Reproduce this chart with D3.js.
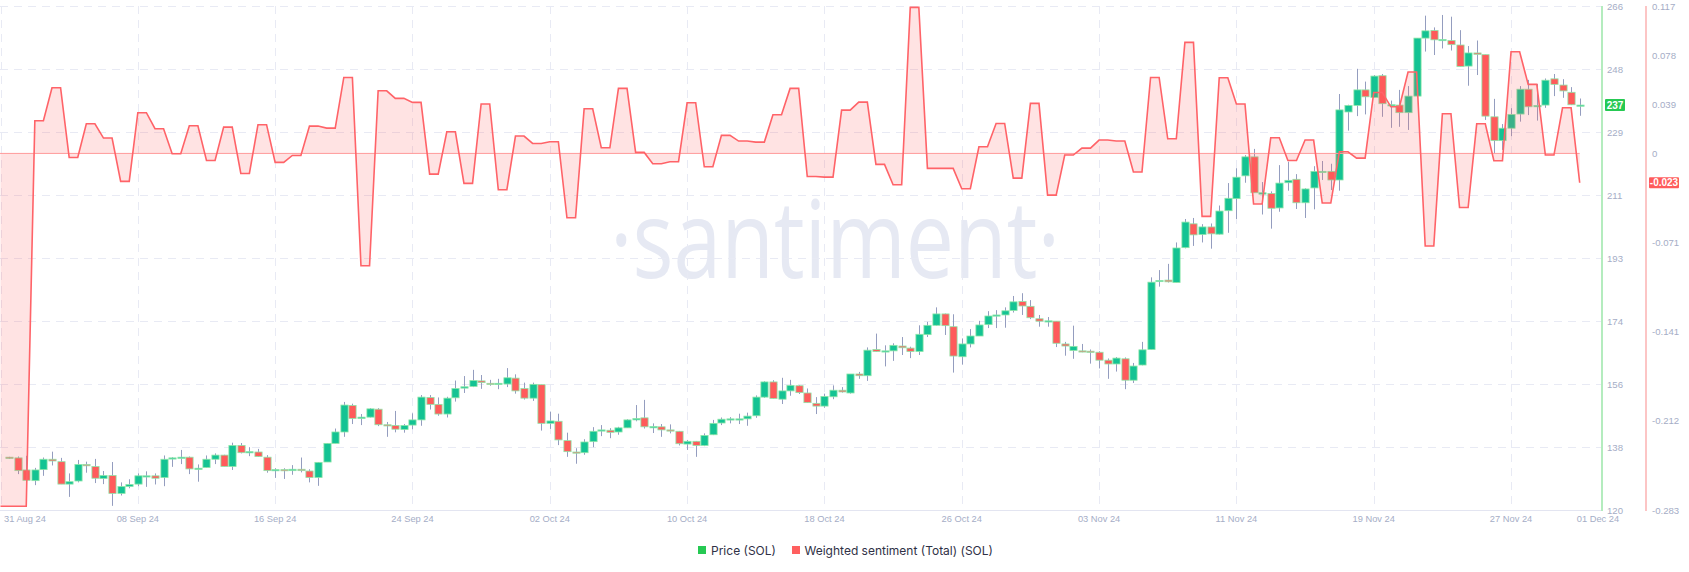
<!DOCTYPE html>
<html>
<head>
<meta charset="utf-8">
<script src="https://cdn.jsdelivr.net/npm/d3@7/dist/d3.min.js"></script>
<style>
  html, body { margin: 0; padding: 0; background: #fff; }
  svg { display: block; }
  text { font-family: "Liberation Sans", Arial, sans-serif; }
</style>
</head>
<body>
<script>
// 12h candles, first one is 31 Aug 12:00
const opens = [135.3,135.1,131.6,128.5,131.7,134.7,134.0,127.5,128.4,133.2,132.6,129.1,130.0,124.8,126.8,127.5,129.8,129.9,129.4,134.8,135.1,135.3,131.8,132.3,134.7,135.9,132.6,138.7,136.6,136.8,135.3,131.4,131.7,131.4,131.8,131.3,129.4,133.9,139.3,142.6,150.3,146.5,146.9,149.2,144.7,144.5,143.3,144.6,146.1,152.6,150.6,147.8,152.5,155.3,155.8,157.4,156.7,156.6,156.5,158.2,155.2,152.4,156.3,
  145.1,145.7,140.1,136.8,136.6,139.8,142.9,143.1,142.6,143.8,146.1,146.7,143.8,144.1,143.2,142.8,139.1,139.9,138.7,141.8,145.2,146.2,146.2,146.4,147.3,152.7,157.1,152.1,154.5,156.0,153.9,150.9,150.1,152.8,154.7,153.9,159.4,158.9,166.5,165.9,166.1,167.5,166.9,165.9,170.8,173.5,176.8,173.1,164.4,168.1,170.4,173.7,176.3,176.5,177.8,180.4,179.0,175.4,174.6,174.7,168.1,166.2,166.1,166.0,165.7,
  163.4,162.3,163.8,157.6,162.0,166.5,186.2,186.6,185.9,196.0,202.9,199.8,202.0,199.9,206.7,210.2,216.8,222.3,211.5,211.7,207.5,214.8,215.8,209.0,213.3,218.0,218.1,215.6,235.3,237.2,241.7,239.5,245.8,237.2,237.3,235.1,239.9,256.7,258.9,256.2,256.0,254.7,248.6,252.4,251.9,233.9,227.0,230.6,234.7,241.9,236.8,237.3,244.9,243.1,241.0,237.2];
const highs = [135.4,135.5,135.7,132.2,135.2,136.9,135.1,130.6,134.5,134.0,134.8,131.3,133.9,128.0,128.9,130.6,131.2,130.6,135.8,135.3,137.4,135.5,133.2,135.8,136.4,136.0,139.5,139.4,138.2,137.7,135.9,132.1,132.1,133.0,135.2,131.8,133.9,139.3,143.6,151.3,150.8,147.8,149.5,149.5,145.5,148.7,144.9,148.0,153.3,153.3,152.6,152.8,157.5,158.8,160.6,159.1,157.7,158.0,161.1,159.3,156.9,156.9,156.3,
  148.5,147.9,142.4,137.9,140.5,144.0,144.6,143.7,144.1,146.3,150.4,151.9,145.1,144.9,144.8,142.9,140.3,140.0,142.2,146.1,146.8,146.9,147.9,148.2,153.2,157.3,157.6,158.3,157.7,156.2,155.2,152.7,153.7,156.1,155.6,159.4,160.0,167.1,171.1,167.7,168.3,170.1,167.3,173.5,174.5,178.7,176.9,176.7,169.7,172.4,174.8,177.6,177.9,178.7,182.0,182.8,180.8,176.5,175.9,174.7,168.7,173.4,168.1,166.5,166.0,
  163.9,164.3,164.2,162.6,168.7,187.4,189.5,191.3,197.5,204.3,204.6,202.8,203.0,208.2,214.7,219.0,222.8,224.6,215.0,212.3,219.9,220.9,217.3,213.2,219.6,221.1,220.3,240.5,237.4,247.8,244.1,246.0,246.3,238.6,241.7,242.8,256.7,263.2,259.8,263.4,262.9,259.0,254.4,256.0,251.9,239.1,231.8,236.4,242.8,244.6,243.4,245.0,246.3,244.8,242.5,239.2];
const lows = [134.8,130.4,128.6,127.2,129.9,132.9,127.5,123.8,128.0,130.8,127.8,127.5,121.2,124.2,126.3,126.9,126.7,127.4,126.9,132.5,133.3,130.4,128.2,132.2,133.3,132.6,131.6,136.4,135.6,135.4,130.8,129.3,129.0,130.2,130.9,128.0,127.0,133.9,139.3,141.2,144.9,144.6,146.8,144.3,141.2,142.5,142.4,143.4,144.4,149.1,147.3,146.8,151.4,153.9,155.6,155.1,156.0,155.0,155.6,153.7,152.0,151.6,143.0,
  143.5,138.8,135.4,133.4,136.0,138.2,141.4,140.8,141.8,143.8,145.7,143.6,142.3,141.2,142.2,138.7,137.4,135.4,138.5,141.7,144.6,145.1,144.9,144.4,146.7,152.5,152.2,150.7,153.1,153.6,151.1,147.8,149.6,152.1,154.0,153.7,158.0,157.4,165.8,161.6,163.2,164.9,164.0,164.9,170.1,173.4,170.7,159.8,162.1,167.1,170.4,172.7,172.7,172.8,177.2,176.5,175.3,173.1,173.1,167.2,164.7,163.8,165.7,162.4,161.0,
  158.0,160.1,155.0,156.8,161.9,166.5,184.7,185.9,185.9,195.8,196.5,197.5,195.7,199.8,200.3,204.3,214.8,211.9,205.6,201.5,206.4,212.5,207.2,204.6,207.1,215.6,212.7,212.5,229.9,234.1,234.6,239.5,233.9,230.7,231.0,230.1,239.9,252.8,251.8,253.7,253.1,248.5,242.9,246.0,233.0,223.3,224.3,228.3,232.5,234.4,232.8,236.5,239.9,239.4,237.3,234.2];
const closes = [135.2,131.4,128.6,131.6,134.7,134.2,127.5,128.2,133.2,132.8,129.2,130.0,124.8,126.8,127.4,129.9,129.9,129.2,134.7,135.1,135.3,131.9,132.1,134.7,135.9,132.6,138.7,136.6,136.9,135.5,131.4,131.7,131.4,131.8,131.4,129.4,133.8,139.3,142.6,150.4,146.5,146.9,149.3,144.7,144.5,143.4,144.5,146.1,152.7,150.6,147.8,152.4,155.2,155.7,157.5,156.9,156.6,156.7,158.3,154.5,152.4,156.4,145.1,
  145.8,140.3,136.9,136.6,139.7,142.8,143.2,142.5,143.8,146.1,146.5,144.1,144.2,143.2,142.9,139.2,139.9,138.7,141.6,145.1,146.3,146.4,146.4,147.2,152.7,157.1,152.3,154.5,156.1,154.0,151.1,150.1,152.9,154.7,154.2,159.4,158.9,166.3,165.9,166.1,167.7,167.0,165.9,170.9,173.5,176.8,173.4,164.6,168.1,170.4,173.6,176.2,176.5,177.7,180.3,179.1,175.7,174.7,174.8,168.3,167.5,167.4,165.9,165.8,163.4,
  162.3,164.0,157.6,161.7,166.4,186.0,186.5,186.1,195.9,203.4,199.7,202.0,200.0,206.6,210.3,216.4,222.3,211.9,211.9,207.4,214.7,215.5,209.0,213.0,218.1,218.1,215.6,235.9,237.2,241.7,239.7,245.7,237.7,237.4,235.1,239.9,256.7,258.8,256.2,256.3,254.8,248.5,252.4,252.0,234.1,227.0,230.6,234.6,241.9,236.8,237.2,244.5,243.3,241.4,237.4,237.3];

// daily weighted sentiment, 31 Aug .. 01 Dec
const sentimentDaily = [-0.28,-0.28,0.0259,0.0521,-0.0032,0.0235,0.0122,-0.0222,0.0323,0.0196,-0.0003,0.022,-0.0056,0.0209,-0.0159,0.0228,-0.0071,-0.0016,0.0217,0.0201,0.0603,-0.0892,0.0497,0.0437,0.0405,-0.0164,0.0172,-0.0238,0.0392,-0.0288,0.0138,0.0079,
  0.0093,-0.0511,0.0354,0.0045,0.0516,0.0008,-0.0082,-0.0066,0.0402,-0.0106,0.0143,0.0098,0.009,0.0307,0.0516,-0.0183,-0.0188,0.0344,0.0407,-0.0087,-0.0249,0.1159,-0.0119,-0.0119,-0.028,0.0053,0.0238,-0.0196,0.0397,-0.0331,-0.0013,0.0042,
  0.0106,0.0098,-0.0148,0.0603,0.0116,0.0881,-0.05,0.0601,0.0392,-0.0402,0.0124,-0.0056,0.0106,-0.0394,0.0013,-0.0037,0.0484,0.037,0.0646,-0.0735,0.0315,-0.0429,0.0235,-0.0058,0.0807,0.0548,-0.0013,0.0362,-0.0233];

const priceTicks = [120,138,156,174,193,211,229,248,266];
const sentimentTicks = [0.117,0.078,0.039,0,-0.071,-0.141,-0.212,-0.283];
const dateTicks = ["2024-08-31","2024-09-08","2024-09-16","2024-09-24","2024-10-02","2024-10-10","2024-10-18","2024-10-26","2024-11-03","2024-11-11","2024-11-19","2024-11-27"];
const lastDate = "2024-12-01";

const parseDay = d3.utcParse("%Y-%m-%d");
const fmtDay = d3.utcFormat("%d %b %y");
const HALF = 12*3600*1000;

const width = 1689, height = 572,
      plotTop = 6, plotBottom = 510, axisRight = 1602, axisRight2 = 1646;

const start = parseDay(dateTicks[0]), end = parseDay(lastDate);

const x = d3.scaleUtc().domain([start,end]).range([0.5,1579.7]);
const yPrice = d3.scaleLinear().domain([120,266]).range([plotBottom,plotTop]);
const ySent = d3.scaleLinear().domain([-0.283,0.117]).range([plotBottom,plotTop]);
// the rounded price labels sit on evenly spaced lines
const tickPos = d3.scaleLinear().domain([0,priceTicks.length-1]).range([plotBottom,plotTop]);

const candles = opens.map((o,i)=>({
  t: new Date(+start+(i+1)*HALF), o, h: highs[i], l: lows[i], c: closes[i]
}));

// the daily value holds for both 12h slots of the day
const sentiment = sentimentDaily.flatMap((v,k)=>[
  {t:new Date(+start+2*k*HALF),v},
  {t:new Date(+start+(2*k+1)*HALF),v}
]).slice(0,185);

const svg = d3.select("body").append("svg")
  .attr("width",width).attr("height",height)
  .attr("viewBox",[0,0,width,height]);

const gridColor = "#e8eaf4", tickColor = "#a5adc6";

// watermark
svg.append("text")
  .attr("x",610).attr("y",278)
  .attr("textLength",450).attr("lengthAdjust","spacingAndGlyphs")
  .style("font-family","'Open Sans'").style("font-weight",400).style("font-size","108px")
  .attr("fill","#e6e9f3")
  .text("·santiment·");

// grid
svg.append("g").selectAll("line")
  .data(priceTicks.slice(1))
  .join("line")
  .attr("x1",0).attr("x2",axisRight)
  .attr("y1",(d,i)=>Math.round(tickPos(i+1))+0.5)
  .attr("y2",(d,i)=>Math.round(tickPos(i+1))+0.5)
  .attr("stroke",gridColor).attr("stroke-dasharray","8,6");

svg.append("g").selectAll("line")
  .data(dateTicks)
  .join("line")
  .attr("x1",d=>Math.round(x(parseDay(d)))+0.5).attr("x2",d=>Math.round(x(parseDay(d)))+0.5)
  .attr("y1",plotTop).attr("y2",plotBottom)
  .attr("stroke",gridColor).attr("stroke-dasharray","8,6");

// bottom axis line
svg.append("line")
  .attr("x1",0).attr("x2",axisRight).attr("y1",plotBottom+0.5).attr("y2",plotBottom+0.5)
  .attr("stroke","#e3e5f1");

// candles
const candle = svg.append("g").selectAll("g")
  .data(candles)
  .join("g");

candle.append("line")
  .attr("x1",d=>Math.round(x(d.t))+0.5).attr("x2",d=>Math.round(x(d.t))+0.5)
  .attr("y1",d=>yPrice(d.h)).attr("y2",d=>yPrice(d.l))
  .attr("stroke","#949dbf").attr("stroke-width",1);

candle.append("rect")
  .attr("x",d=>Math.round(x(d.t))-3.1)
  .attr("width",7.2)
  .attr("y",d=>yPrice(Math.max(d.o,d.c)))
  .attr("height",d=>Math.max(1.2,Math.abs(yPrice(d.o)-yPrice(d.c))))
  .attr("fill",d=>d.c>=d.o?"#14c393":"#ff5b5b")
  .attr("stroke","#8ee6a8").attr("stroke-width",0.8);

// sentiment area + line, drawn over the candles
const area = d3.area().x(d=>x(d.t)).y0(ySent(0)).y1(d=>ySent(d.v));
const line = d3.line().x(d=>x(d.t)).y(d=>ySent(d.v));

svg.append("path").datum(sentiment)
  .attr("d",area).attr("fill","#ff5b5b").attr("fill-opacity",0.17);

svg.append("line")
  .attr("x1",0).attr("x2",x(end))
  .attr("y1",ySent(0)).attr("y2",ySent(0))
  .attr("stroke","#ff9a9a").attr("stroke-width",1);

svg.append("path").datum(sentiment)
  .attr("d",line).attr("fill","none").attr("stroke","#ff6368").attr("stroke-width",1.6);

// right axes
svg.append("line")
  .attr("x1",axisRight).attr("x2",axisRight).attr("y1",plotTop).attr("y2",plotBottom+1)
  .attr("stroke","#b4ecbe").attr("stroke-width",2);
svg.append("line")
  .attr("x1",axisRight2).attr("x2",axisRight2).attr("y1",plotTop).attr("y2",plotBottom+1)
  .attr("stroke","#fcc5c5").attr("stroke-width",2);

svg.append("g").selectAll("text")
  .data(priceTicks)
  .join("text")
  .attr("x",1607).attr("y",(d,i)=>tickPos(i)+3.5)
  .attr("fill",tickColor).style("font-size","9.6px")
  .text(d=>d);

svg.append("g").selectAll("text")
  .data(sentimentTicks)
  .join("text")
  .attr("x",1652).attr("y",d=>ySent(d)+3.5)
  .attr("fill",tickColor).style("font-size","9.6px")
  .text(d=>d);

// x labels
svg.append("g").selectAll("text")
  .data(dateTicks.slice(1).concat([lastDate]))
  .join("text")
  .attr("x",d=>d===lastDate?1598:x(parseDay(d)))
  .attr("y",522).attr("text-anchor","middle")
  .attr("fill",tickColor).style("font-size","9.3px")
  .text(d=>fmtDay(parseDay(d)));

svg.append("text")
  .attr("x",4).attr("y",522)
  .attr("fill",tickColor).style("font-size","9.3px")
  .text(fmtDay(start));

// current value badges
const lastCandle = candles[candles.length-1];
svg.append("rect")
  .attr("x",1605).attr("y",yPrice(lastCandle.c)-6).attr("width",20).attr("height",12)
  .attr("fill","#26c953").attr("rx",1);
svg.append("text")
  .attr("x",1615).attr("y",yPrice(lastCandle.c)+3.5).attr("text-anchor","middle")
  .attr("fill","#fff").style("font-size","10px").style("font-weight","bold")
  .text(Math.round(lastCandle.c));

const lastSent = sentimentDaily[sentimentDaily.length-1];
svg.append("rect")
  .attr("x",1649).attr("y",ySent(lastSent)-5.5).attr("width",30).attr("height",11)
  .attr("fill","#ff5b5b").attr("rx",1);
svg.append("text")
  .attr("x",1664).attr("y",ySent(lastSent)+3.5).attr("text-anchor","middle")
  .attr("fill","#fff").style("font-size","10px").style("font-weight","bold")
  .text(lastSent.toFixed(3));

// legend
const legend = [
  {name:"Price (SOL)", color:"#26c953", sx:698, tx:711},
  {name:"Weighted sentiment (Total) (SOL)", color:"#ff5f5f", sx:792, tx:804.5}
];
const lg = svg.append("g").selectAll("g").data(legend).join("g");
lg.append("rect").attr("x",d=>d.sx).attr("y",546).attr("width",8).attr("height",8).attr("fill",d=>d.color);
lg.append("text").attr("x",d=>d.tx).attr("y",554.5)
  .attr("fill","#2f3146")
  .style("font-family","Inter").style("font-size","12px")
  .text(d=>d.name);
</script>
</body>
</html>
